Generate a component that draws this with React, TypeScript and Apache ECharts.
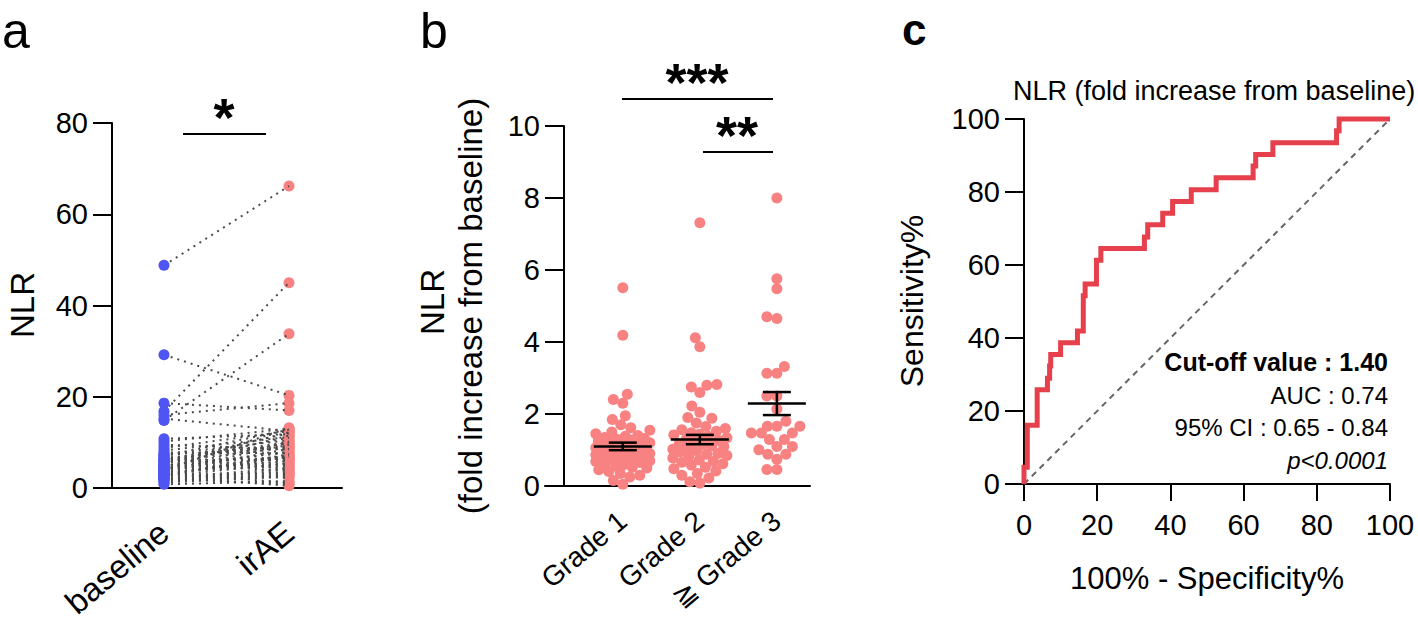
import React, { useEffect, useRef } from 'react';
import * as echarts from 'echarts';

// ---------- Panel a: paired NLR (baseline vs irAE) ----------
const aCategories = ['baseline', 'irAE'];
const aBaseline = [
  48.8, 29.2, 18.6, 16.8, 14.8, 16.0, 15.2,
  1.2, 1.8, 2.1, 2.5, 2.9, 3.0, 3.3, 3.6, 3.8, 4.0, 4.2, 4.5, 4.7, 5.0, 5.2, 5.5, 5.8, 6.0, 6.3, 6.6,
  7.0, 7.4, 7.8, 8.2, 8.8, 9.5, 10.2, 10.8, 0.8, 1.5, 2.2, 2.7, 3.1, 3.5, 4.1, 4.4, 4.9, 5.3, 5.7, 6.1,
  2.0, 3.9, 4.6, 3.2, 2.6, 1.9, 5.9, 6.8, 7.2, 2.4,
];
const aIrae = [
  66.2, 20.3, 17.0, 45.0, 33.8, 18.6, 12.5,
  2.5, 4.0, 0.9, 5.5, 3.2, 7.2, 6.0, 4.8, 9.5, 5.9, 8.0, 6.5, 11.5, 7.0, 3.8, 10.2, 8.8, 12.0, 6.2, 9.0,
  12.8, 10.5, 7.6, 11.2, 12.5, 8.4, 13.0, 11.8, 1.5, 3.0, 4.4, 6.8, 2.2, 8.6, 5.0, 10.0, 7.8, 12.2, 6.6, 9.8,
  3.5, 13.2, 5.3, 1.2, 7.4, 2.8, 11.0, 4.2, 9.2, 0.5,
];

// ---------- Panel b: NLR fold increase by grade ----------
const bCategories = ['Grade 1', 'Grade 2', '≧ Grade 3'];
const bGrade1 = [
  5.51, 4.19, 2.55, 2.40, 2.30, 1.95, 1.85, 1.70, 1.62, 1.55, 1.50, 1.45, 1.40, 1.38, 1.35, 1.30, 1.28,
  1.25, 1.22, 1.20, 1.18, 1.15, 1.12, 1.10, 1.08, 1.05, 1.02, 1.00, 0.98, 0.95, 0.93, 0.90, 0.88, 0.85,
  0.82, 0.80, 0.78, 0.75, 0.72, 0.70, 0.68, 0.65, 0.62, 0.60, 0.55, 0.52, 0.50, 0.45, 0.40, 0.35, 0.30,
  0.25, 0.15, 0.05, 1.32, 1.06, 0.96, 0.87, 1.14, 0.74,
];
const bGrade2 = [
  7.31, 4.12, 3.87, 2.82, 2.80, 2.75, 2.60, 2.22, 2.05, 1.90, 1.88, 1.75, 1.65, 1.60, 1.52, 1.48, 1.42,
  1.38, 1.34, 1.30, 1.27, 1.22, 1.18, 1.15, 1.10, 1.05, 1.02, 0.98, 0.95, 0.90, 0.85, 0.82, 0.78, 0.72,
  0.68, 0.62, 0.58, 0.52, 0.48, 0.42, 0.35, 0.30, 0.22, 0.12, 0.08, 1.44, 1.12, 0.88, 0.66, 1.56,
];
const bGrade3 = [
  8.0, 5.76, 5.48, 4.70, 4.65, 3.32, 3.13, 3.13, 2.50, 2.50, 2.14, 1.80, 1.66, 1.66, 1.66, 1.47, 1.47,
  1.47, 1.29, 1.29, 1.10, 1.10, 1.01, 0.88, 0.88, 0.74, 0.46, 0.46,
];
const bMean = [1.10, 1.29, 2.29];
const bSem = [0.105, 0.13, 0.32];

// ---------- Panel c: ROC ----------
const rocFpr = [0, 0, 0.9, 0.9, 3.6, 3.6, 6.4, 6.4, 7.0, 7.0, 7.3, 7.3, 10.0, 10.0, 14.6, 14.6, 16.2, 16.2,
  16.7, 16.7, 19.8, 19.8, 21.0, 21.0, 32.9, 32.9, 33.8, 33.8, 37.9, 37.9, 40.6, 40.6, 45.7, 45.7, 52.5, 52.5,
  62.6, 62.6, 63.3, 63.3, 68.0, 68.0, 85.4, 85.4, 86.1, 86.1, 100];
const rocTpr = [0, 4.6, 4.6, 16.1, 16.1, 25.8, 25.8, 29.0, 29.0, 32.3, 32.3, 35.5, 35.5, 38.7, 38.7, 41.9,
  41.9, 51.6, 51.6, 54.8, 54.8, 61.3, 61.3, 64.5, 64.5, 67.7, 67.7, 71.0, 71.0, 74.2, 74.2, 77.4, 77.4, 80.6,
  80.6, 83.9, 83.9, 87.1, 87.1, 90.3, 90.3, 93.5, 93.5, 96.8, 96.8, 100, 100];
const rocStats = ['Cut-off value : 1.40', 'AUC : 0.74', '95% CI : 0.65 - 0.84', 'p<0.0001'];

const FONT = '"Liberation Sans", Arial, Helvetica, sans-serif';
const BLUE = '#4F55F2';
const PINK = '#F88282';
const RED = '#E5404B';

// beeswarm layout in pixel space, limited half-width; returns offsets in x-data units
function swarm(values: number[], pxPerY: number, pxPerX: number, d: number, maxHalf: number): number[] {
  const order = values.map((_, i) => i).sort((p, q) => values[p] - values[q]);
  const placed: { x: number; y: number }[] = [];
  const out: number[] = new Array(values.length).fill(0);
  const steps = Math.floor(maxHalf / 0.5);
  for (const i of order) {
    const y = values[i] * pxPerY;
    let best = 0;
    let bestScore = -1;
    let found = false;
    for (let k = 0; k <= steps * 2; k++) {
      const off = (k % 2 === 0 ? 1 : -1) * Math.ceil(k / 2) * 0.5;
      let minD = Infinity;
      for (const p of placed) {
        const dd = Math.hypot(p.x - off, p.y - y);
        if (dd < minD) minD = dd;
      }
      if (minD >= d) {
        best = off;
        found = true;
        break;
      }
      if (minD > bestScore) {
        bestScore = minD;
        best = off;
      }
    }
    if (!found && placed.length === 0) best = 0;
    placed.push({ x: best, y });
    out[i] = best / pxPerX;
  }
  return out;
}

export default function App() {
  const ref = useRef<HTMLDivElement>(null);
  useEffect(() => {
    if (!ref.current) return;
    const chart = echarts.init(ref.current, undefined, { renderer: 'svg' });

    const axisLine = { show: true, onZero: false, lineStyle: { color: '#000', width: 2 } };
    const yTick = { show: true, inside: false, length: 19, lineStyle: { color: '#000', width: 2 } };
    const tickLabel = { color: '#000', fontSize: 29, fontFamily: FONT, margin: 24 };
    const catLabel = (cats: string[], size: number, margin: number) => ({
      color: '#000', fontSize: size, fontFamily: FONT, rotate: 40, margin,
      customValues: cats.map((_, i) => i + 1),
      formatter: (v: number) => cats[Math.round(v) - 1] ?? '',
    });

    const grades = [bGrade1, bGrade2, bGrade3];
    const swarmSeries = grades.map((g, gi) => {
      const offs = swarm(g, 36, 77, 10, 27);
      return {
        type: 'scatter', xAxisIndex: 1, yAxisIndex: 1, symbolSize: 11, z: 2,
        itemStyle: { color: PINK, opacity: 1 },
        data: g.map((v, i) => [gi + 1 + offs[i], v]),
      };
    });

    const txt = (text: string, x: number, y: number, size: number, extra: any = {}) => ({
      type: 'text', x, y, z: 10,
      style: { text, fontSize: size, fontFamily: FONT, fill: '#000', align: 'center', verticalAlign: 'middle', ...extra },
    });
    const seg = (x1: number, y1: number, x2: number, y2: number) => ({
      type: 'line', z: 10, shape: { x1, y1, x2, y2 }, style: { stroke: '#000', lineWidth: 2 },
    });

    const option: any = {
      animation: false,
      textStyle: { fontFamily: FONT },
      grid: [
        { left: 94, top: 123, width: 248, height: 365, outerBoundsMode: 'none', containLabel: false },
        { left: 545, top: 126, width: 265, height: 360, outerBoundsMode: 'none', containLabel: false },
        { left: 1024, top: 119, width: 366, height: 365, outerBoundsMode: 'none', containLabel: false },
      ],
      xAxis: [
        { type: 'value', gridIndex: 0, min: 0.44, max: 2.424, axisLine, axisTick: { show: false },
          splitLine: { show: false }, axisLabel: catLabel(aCategories, 33, 40) },
        { type: 'value', gridIndex: 1, min: -0.01, max: 3.43, axisLine, axisTick: { show: false },
          splitLine: { show: false }, axisLabel: catLabel(bCategories, 28, 31) },
        { type: 'value', gridIndex: 2, min: 0, max: 100, interval: 20, axisLine,
          axisTick: { show: true, inside: false, length: 17, lineStyle: { color: '#000', width: 2 } },
          splitLine: { show: false }, axisLabel: { ...tickLabel, margin: 26 } },
      ],
      yAxis: [
        { type: 'value', gridIndex: 0, min: 0, max: 80, interval: 20, offset: -18, axisLine, axisTick: yTick,
          splitLine: { show: false }, axisLabel: tickLabel },
        { type: 'value', gridIndex: 1, min: 0, max: 10, interval: 2, offset: -19, axisLine, axisTick: yTick,
          splitLine: { show: false }, axisLabel: tickLabel },
        { type: 'value', gridIndex: 2, min: 0, max: 100, interval: 20, axisLine, axisTick: yTick,
          splitLine: { show: false }, axisLabel: tickLabel },
      ],
      series: [
        // panel a
        {
          type: 'scatter', xAxisIndex: 0, yAxisIndex: 0, symbolSize: 11, z: 2,
          itemStyle: { color: PINK, opacity: 1 }, data: aIrae.map((v) => [2, v]),
        },
        {
          type: 'lines', coordinateSystem: 'cartesian2d', xAxisIndex: 0, yAxisIndex: 0, z: 3,
          lineStyle: { color: '#4a4a4a', width: 2, type: [2, 5], opacity: 1, curveness: 0 },
          data: aBaseline.map((b, i) => ({ coords: [[1, b], [2, aIrae[i]]] })),
        },
        {
          type: 'scatter', xAxisIndex: 0, yAxisIndex: 0, symbolSize: 11, z: 4,
          itemStyle: { color: BLUE, opacity: 1 }, data: aBaseline.map((v) => [1, v]),
        },
        // panel b
        ...swarmSeries,
        {
          type: 'custom', xAxisIndex: 1, yAxisIndex: 1, z: 5,
          data: bMean.map((m, i) => [i + 1, m, bSem[i]]),
          renderItem: (_p: any, api: any) => {
            const x = api.value(0), m = api.value(1), s = api.value(2);
            const c = api.coord([x, m]);
            const hi = api.coord([x, m + s]);
            const lo = api.coord([x, m - s]);
            const st = { stroke: '#000', lineWidth: 2.5 };
            return {
              type: 'group',
              children: [
                { type: 'line', shape: { x1: c[0] - 29, y1: c[1], x2: c[0] + 29, y2: c[1] }, style: st },
                { type: 'line', shape: { x1: c[0], y1: hi[1], x2: c[0], y2: lo[1] }, style: st },
                { type: 'line', shape: { x1: c[0] - 14, y1: hi[1], x2: c[0] + 14, y2: hi[1] }, style: st },
                { type: 'line', shape: { x1: c[0] - 14, y1: lo[1], x2: c[0] + 14, y2: lo[1] }, style: st },
              ],
            };
          },
        },
        // panel c
        {
          type: 'line', xAxisIndex: 2, yAxisIndex: 2, showSymbol: false, z: 2, clip: false,
          lineStyle: { color: '#666', width: 2, type: [6, 5] },
          data: [[0, 0], [100, 100]],
        },
        {
          type: 'line', xAxisIndex: 2, yAxisIndex: 2, showSymbol: false, z: 3, clip: false,
          lineStyle: { color: RED, width: 5, join: 'miter' },
          data: rocFpr.map((x, i) => [x, rocTpr[i]]),
        },
      ],
      graphic: [
        // panel letters
        txt('a', 2, 31, 50, { align: 'left' }),
        txt('b', 420, 31, 50, { align: 'left' }),
        txt('c', 902, 29, 44, { align: 'left', fontWeight: 'bold' }),
        // axis titles
        { ...txt('NLR', 22, 305, 33), rotation: Math.PI / 2 },
        { ...txt('NLR', 432, 302, 33), rotation: Math.PI / 2 },
        { ...txt('(fold increase from baseline)', 470, 306, 33), rotation: Math.PI / 2 },
        { ...txt('Sensitivity%', 912, 301, 32), rotation: Math.PI / 2 },
        txt('100% - Specificity%', 1207, 578, 31),
        // panel c title
        txt('NLR (fold increase from baseline)', 1013, 91, 27, { align: 'left' }),
        // significance
        seg(183, 134, 266, 134),
        txt('*', 224, 117, 54, { fontWeight: 'bold' }),
        seg(622, 99, 773, 99),
        txt('***', 697, 82, 54, { fontWeight: 'bold' }),
        seg(703, 152, 773, 152),
        txt('**', 737, 135, 54, { fontWeight: 'bold' }),
        // ROC stats
        txt(rocStats[0], 1388, 362, 25, { align: 'right', fontWeight: 'bold' }),
        txt(rocStats[1], 1388, 395, 24, { align: 'right' }),
        txt(rocStats[2], 1388, 427, 24, { align: 'right' }),
        txt(rocStats[3], 1388, 460, 24, { align: 'right', fontStyle: 'italic' }),
      ],
    };
    chart.setOption(option);
    return () => chart.dispose();
  }, []);
  return (
    <div
      ref={ref}
      style={{ position: 'absolute', left: 0, top: 0, width: 1418, height: 620, background: '#fff' }}
    />
  );
}
